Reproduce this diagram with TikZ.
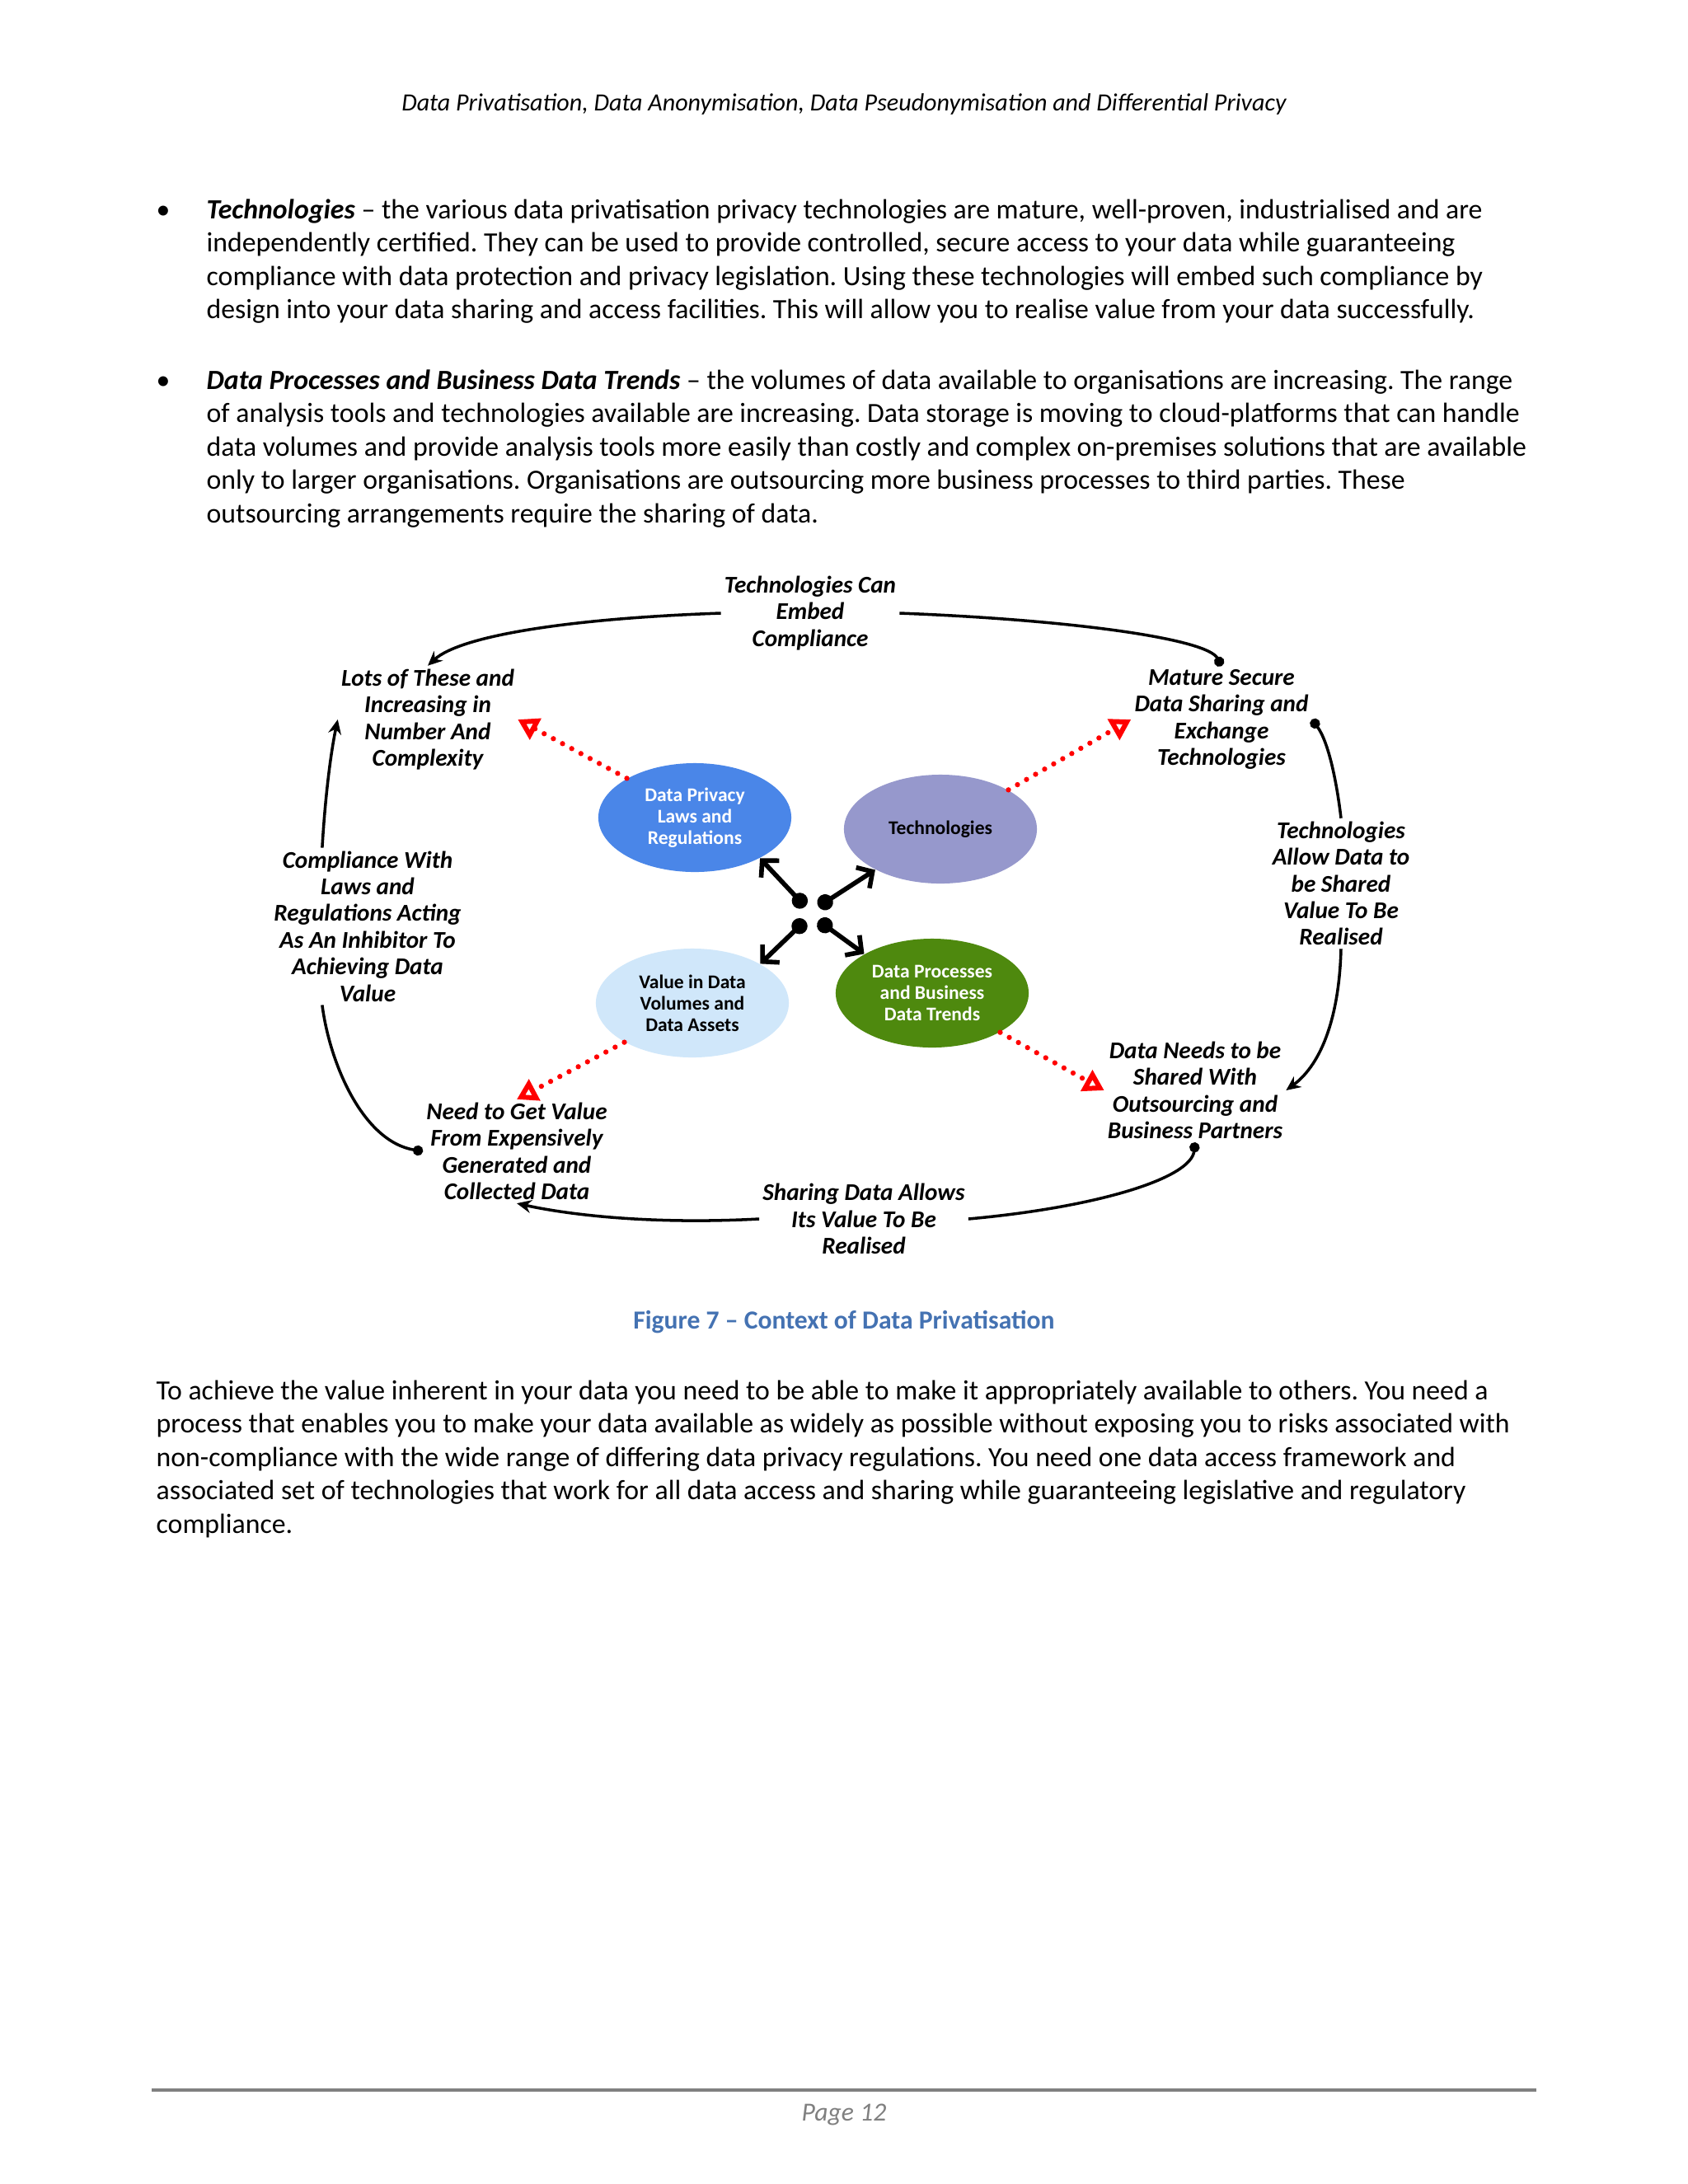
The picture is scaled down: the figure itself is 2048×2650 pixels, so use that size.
\documentclass[tikz,border=0pt]{standalone}
\usepackage{fontspec}
\setmainfont{Carlito}
\usetikzlibrary{arrows.meta,shapes.geometric}
\definecolor{lawblue}{RGB}{74,134,232}
\definecolor{techlav}{RGB}{150,152,204}
\definecolor{valblue}{RGB}{208,231,250}
\definecolor{procgreen}{RGB}{78,137,14}
\definecolor{capblue}{RGB}{68,114,178}
\definecolor{footgray}{RGB}{128,128,128}
\frenchspacing
\begin{document}
\begin{tikzpicture}[x=0.01cm, y=-0.01cm,
  bodytxt/.style={anchor=base west, inner sep=0pt, font=\fontsize{9.6}{11.5}\selectfont},
  lbl/.style={align=center, inner sep=1pt, font=\fontsize{8.3}{9.2}\selectfont\bfseries\itshape},
  blob/.style={ellipse, minimum width=2.34cm, minimum height=1.32cm, inner sep=0pt,
    align=center, font=\fontsize{6.7}{7.4}\selectfont\bfseries},
  cyc/.style={line width=1pt},
  hub/.style={line width=1.6pt, {Circle[length=5.5pt]}-{Straight Barb[length=4pt,width=8.5pt]}},
  reddot/.style={red, line width=1.8pt, dash pattern=on 0pt off 3.6pt, line cap=round,
    -{Triangle[open,length=7pt,width=8pt,line width=1.7pt]}}]
  \fill[white] (0,0) rectangle (2048,2650);
  \useasboundingbox (0,0) rectangle (2048,2650);
  % running head
  \node[anchor=base, inner sep=0pt, font=\fontsize{8.55}{10}\selectfont\itshape] (head) at (1024,134)
    {Data Privatisation, Data Anonymisation, Data Pseudonymisation and Differential Privacy};
  % bullet paragraphs
  \node[anchor=base, inner sep=0pt, font=\fontsize{9.6}{10}\selectfont] (b1) at (198,265) {\textbullet};
  \foreach \ln [count=\k from 0] in {
    {\textbf{\textit{Technologies}} – the various data privatisation privacy technologies are mature, well-proven, industrialised and are},
    {independently certified. They can be used to provide controlled, secure access to your data while guaranteeing},
    {compliance with data protection and privacy legislation. Using these technologies will embed such compliance by},
    {design into your data sharing and access facilities. This will allow you to realise value from your data successfully.}}{
    \node[bodytxt] (pa-\k) at (250,{265+40.5*\k}) {\ln};
  }
  \node[anchor=base, inner sep=0pt, font=\fontsize{9.6}{10}\selectfont] (b2) at (198,472) {\textbullet};
  \foreach \ln [count=\k from 0] in {
    {\textbf{\textit{Data Processes and Business Data Trends}} – the volumes of data available to organisations are increasing. The range},
    {of analysis tools and technologies available are increasing. Data storage is moving to cloud-platforms that can handle},
    {data volumes and provide analysis tools more easily than costly and complex on-premises solutions that are available},
    {only to larger organisations. Organisations are outsourcing more business processes to third parties. These},
    {outsourcing arrangements require the sharing of data.}}{
    \node[bodytxt] (pb-\k) at (250,{472+40.6*\k}) {\ln};
  }
  % the four drivers
  \node[blob, fill=lawblue, text=white] (laws) at (843,992) {Data Privacy\\Laws and\\Regulations};
  \node[blob, fill=techlav] (tech) at (1141,1006) {Technologies};
  \node[blob, fill=valblue] (value) at (840,1217) {Value in Data\\Volumes and\\Data Assets};
  \node[blob, fill=procgreen, text=white] (proc) at (1131,1205) {Data Processes\\and Business\\Data Trends};
  \coordinate (hubnw) at (977,1100);
  \coordinate (hubne) at (993,1100);
  \coordinate (hubsw) at (977,1117);
  \coordinate (hubse) at (993,1117);
  \draw[hub] (hubnw) -- (laws.-32);
  \draw[hub] (hubne) -- (tech.-148);
  \draw[hub] (hubsw) -- (value.30);
  \draw[hub] (hubse) -- (proc.150);
  % outer cycle
  \node[lbl] (embed) at (983,744) {Technologies Can\\Embed\\Compliance};
  \node[lbl] (lots) at (519,873) {Lots of These and\\Increasing in\\Number And\\Complexity};
  \node[lbl] (mature) at (1482,873) {Mature Secure\\Data Sharing and\\Exchange\\Technologies};
  \node[lbl] (allow) at (1627,1072) {Technologies\\Allow Data to\\be Shared\\Value To Be\\Realised};
  \node[lbl] (needs) at (1450,1323) {Data Needs to be\\Shared With\\Outsourcing and\\Business Partners};
  \node[lbl] (sharing) at (1048,1479) {Sharing Data Allows\\Its Value To Be\\Realised};
  \node[lbl] (getval) at (627,1397) {Need to Get Value\\From Expensively\\Generated and\\Collected Data};
  \node[lbl] (inhib) at (446,1124) {Compliance With\\Laws and\\Regulations Acting\\As An Inhibitor To\\Achieving Data\\Value};
  \draw[cyc, -{Stealth[length=5pt,width=4.5pt]}] (embed.west) .. controls (700,750) and (560,770) .. (lots.north);
  \draw[cyc, -{Circle[length=3.5pt]}] (embed.east) .. controls (1300,752) and (1465,775) .. (mature.north);
  \draw[cyc, {Circle[length=3.5pt]}-] (mature.east) .. controls (1612,900) and (1622,950) .. (allow.north);
  \draw[cyc, -{Stealth[length=5pt,width=4.5pt]}] (allow.south) .. controls (1625,1230) and (1605,1290) .. (needs.east);
  \draw[cyc, {Circle[length=3.5pt]}-] (needs.south) .. controls (1445,1430) and (1330,1465) .. (sharing.east);
  \draw[cyc, -{Stealth[length=5pt,width=4.5pt]}] (sharing.west) .. controls (790,1486) and (690,1474) .. (getval.south);
  \draw[cyc, -{Circle[length=3.5pt]}] (inhib.-120) .. controls (400,1290) and (440,1385) .. (getval.west);
  \draw[cyc, -{Stealth[length=5pt,width=4.5pt]}] (inhib.120) .. controls (395,960) and (402,910) .. (lots.west);
  % what each driver leads to
  \draw[reddot] (laws.150) -- (lots.east);
  \draw[reddot] (tech.30) -- (mature.west);
  \draw[reddot] (value.210) -- (getval.north);
  \draw[reddot] (proc.-30) -- (needs.west);
  \node[anchor=base, inner sep=0pt, text=capblue, font=\fontsize{9}{10}\selectfont\bfseries] (cap) at (1024,1612)
    {Figure 7 – Context of Data Privatisation};
  \foreach \ln [count=\k from 0] in {
    {To achieve the value inherent in your data you need to be able to make it appropriately available to others. You need a},
    {process that enables you to make your data available as widely as possible without exposing you to risks associated with},
    {non-compliance with the wide range of differing data privacy regulations. You need one data access framework and},
    {associated set of technologies that work for all data access and sharing while guaranteeing legislative and regulatory},
    {compliance.}}{
    \node[bodytxt] (pc-\k) at (189,{1698+40.6*\k}) {\ln};
  }
  % footer
  \coordinate (rulel) at (184,2536);
  \coordinate (ruler) at (1864,2536);
  \draw[footgray, line width=1.2pt] (rulel) -- (ruler);
  \node[anchor=base, inner sep=0pt, text=footgray, font=\fontsize{9}{10}\selectfont\itshape] (pg) at (1024,2573) {Page 12};
\end{tikzpicture}
\end{document}
